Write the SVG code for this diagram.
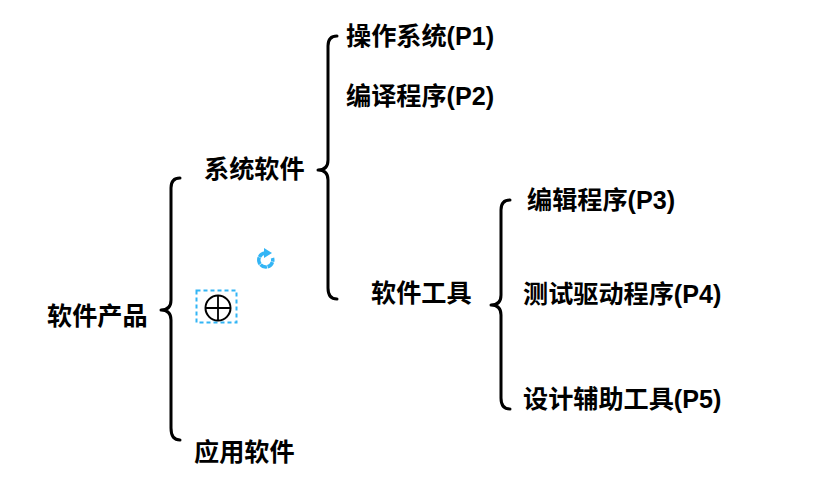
<svg xmlns="http://www.w3.org/2000/svg" width="823" height="484" viewBox="0 0 823 484">
<style>
text{font-family:"Liberation Sans","Noto Sans CJK SC",sans-serif;font-size:25.150px;font-weight:bold;fill:#000}
.b{fill:none;stroke:#000;stroke-width:3;stroke-linecap:round;stroke-linejoin:round}
</style>
<rect width="823" height="484" fill="#fff"/>
<g id="connectors">
<path class="b" d="M180 178Q171 178 171 188V300Q171 310 161 310Q171 310 171 320V428Q171 440 180 440"/>
<path class="b" d="M337 36Q328 36 328 46V160Q328 170 318 170Q328 170 328 180V288Q328 299 337 299"/>
<path class="b" d="M510 200Q501 200 501 210V295Q501 305 491 305Q501 305 501 315V398Q501 409 510 409"/>
</g>
<g id="n1"><text x="47" y="325">软件产品</text></g>
<g id="n2"><text x="204" y="178">系统软件</text></g>
<g id="n3"><text x="194" y="461">应用软件</text></g>
<g id="n4"><text x="346" y="45">操作系统(P1)</text></g>
<g id="n5"><text x="346" y="105">编译程序(P2)</text></g>
<g id="n6"><text x="371" y="302">软件工具</text></g>
<g id="n7"><text x="527" y="209">编辑程序(P3)</text></g>
<g id="n8"><text x="523" y="303">测试驱动程序(P4)</text></g>
<g id="n9"><text x="523" y="408">设计辅助工具(P5)</text></g>
<g id="handle">
<rect x="196.500" y="290.500" width="40" height="32" fill="none" stroke="#33b5f5" stroke-width="2" stroke-dasharray="4 3"/>
<circle cx="218" cy="308" r="12.500" fill="none" stroke="#000" stroke-width="2"/>
<path d="M206 308H230M218 296V320" fill="none" stroke="#000" stroke-width="1.800"/>
</g>
<g id="rotate">
<path d="M265 253A7 7 0 1 0 272.500 258" fill="none" stroke="#33b5f5" stroke-width="3.500" stroke-dasharray="7 0.600"/>
<path d="M264 248L272 253L264 258Z" fill="#33b5f5"/>
</g>
</svg>
